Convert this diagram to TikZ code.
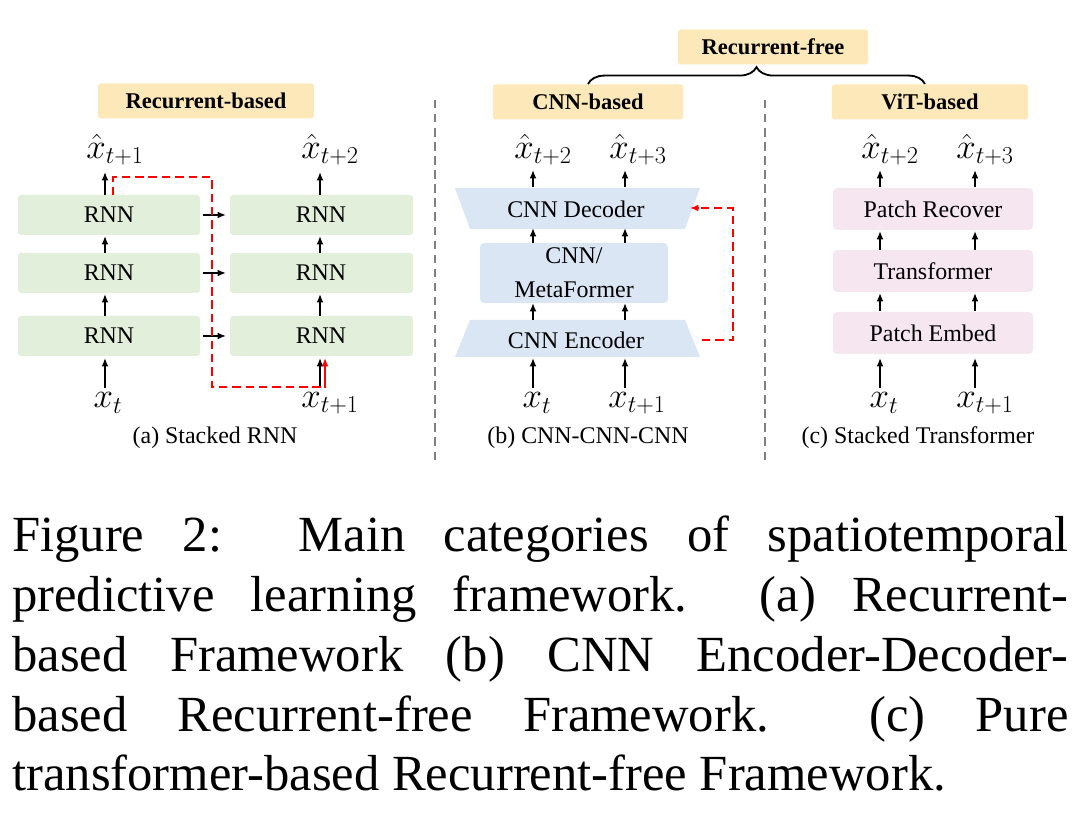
\documentclass[tikz,border=0pt]{standalone}
\usepackage{fontspec}
\setmainfont{Liberation Serif}
\usetikzlibrary{decorations.pathreplacing,arrows.meta}
\definecolor{gbox}{HTML}{E2EFDA}
\definecolor{bbox}{HTML}{DAE6F4}
\definecolor{pbox}{HTML}{F5E6EF}
\definecolor{lab}{HTML}{FDE8BA}
\begin{document}
\begin{tikzpicture}[x=0.025cm,y=-0.025cm,
 txt/.style={font=\fontsize{17}{19}\selectfont},
 math/.style={font=\fontsize{25}{28}\selectfont,inner sep=0pt},
 ar/.style={-{Latex[length=6pt,width=5pt]},line width=1.3pt},
 rd/.style={red,line width=1.3pt,dash pattern=on 6pt off 3.5pt},
 subcap/.style={font=\fontsize{17}{19}\selectfont},
 gd/.style={gray,line width=1pt,dash pattern=on 6pt off 4pt},
 lb/.style={fill=lab,rounded corners=2pt,font=\bfseries\fontsize{16}{18}\selectfont,minimum height=0.875cm}]
\useasboundingbox (0,0) rectangle (1080,819);
% panel a
\foreach \n/\y in {3/215,2/273,1/336}{
 \fill[gbox,rounded corners=2pt] (18,\y-20) rectangle (200,\y+20);
 \fill[gbox,rounded corners=2pt] (230,\y-20) rectangle (413,\y+20);
 \node[txt] (a\n) at (109,\y) {RNN};
 \node[txt] (b\n) at (321,\y) {RNN};
 \coordinate (ha\n) at (203,\y);
 \coordinate (hb\n) at (226,\y);
 \draw[ar] (ha\n) -- (hb\n);
}
\node[lb,minimum width=5.4cm] (lra) at (206,101) {Recurrent-based};
\node[math] (ya) at (115,150) {$\hat{x}_{t+1}$};
\node[math] (yb) at (330,150) {$\hat{x}_{t+2}$};
\node[math] (xa) at (108,403) {$x_t$};
\node[math] (xb) at (330,403) {$x_{t+1}$};
\foreach \c/\t in {105/a,320/b}{
 \draw[ar] (\c,195) -- (\c,172);
 \draw[ar] (\c,253) -- (\c,236);
 \draw[ar] (\c,316) -- (\c,294);
 \draw[ar] (\c,388) -- (\c,358);
}
\draw[rd] (113,195) -- (113,177) -- (212,177) -- (212,387) -- (325,387);
\draw[red,-{Latex[length=6pt,width=5pt]},line width=1.3pt] (325,388) -- (325,358);
\node[subcap] (ca) at (215,438) {(a) Stacked RNN};
% dividers
\draw[gd] (435,100) -- (435,462);
\draw[gd] (765,100) -- (765,462);
% panel b
\fill[bbox] (455,188) -- (700,188) -- (685,229) -- (470,229) -- cycle;
\fill[bbox,rounded corners=3pt] (480,243) rectangle (668,303);
\fill[bbox] (470,320) -- (685,320) -- (700,357) -- (455,357) -- cycle;
\node[txt] (dec) at (576,209) {CNN Decoder};
\node[txt,align=center,font=\fontsize{17}{24}\selectfont] (mid) at (574,273) {CNN/\\MetaFormer};
\node[txt] (enc) at (576,340) {CNN Encoder};
\node[lb,minimum width=4.75cm] (lcnn) at (588,102) {CNN-based};
\node[math] (y2) at (543,150) {$\hat{x}_{t+2}$};
\node[math] (y3) at (638,150) {$\hat{x}_{t+3}$};
\node[math] (x1) at (537,403) {$x_t$};
\node[math] (x2) at (637,403) {$x_{t+1}$};
\foreach \c in {533,625}{
 \draw[ar] (\c,187) -- (\c,170);
 \draw[ar] (\c,243) -- (\c,228);
 \draw[ar] (\c,320) -- (\c,303);
 \draw[ar] (\c,388) -- (\c,358);
}
\coordinate (r1) at (702,340);
\draw[rd] (r1) -- (733,340) -- (733,208) -- (697,208);
\draw[red,-{Latex[length=6pt,width=5pt]},line width=1.3pt] (698,208) -- (690,208);
\node[subcap] (cb) at (588,438) {(b) CNN-CNN-CNN};
% recurrent free
\node[lb,minimum width=4.75cm] (lrf) at (773,47) {Recurrent-free};
\draw[decorate,decoration={brace,amplitude=12pt},line width=1.3pt] (588,84) -- (925,84);
% panel c
\foreach \y/\t/\n in {209/Patch Recover/c3,271/Transformer/c2,333/Patch Embed/c1}{
 \fill[pbox,rounded corners=3pt] (833,\y-21) rectangle (1033,\y+21);
 \node[txt] (\n) at (933,\y) {\t};
}
\node[lb,minimum width=4.9cm] (lvit) at (930,102) {ViT-based};
\node[math] (z2) at (890,150) {$\hat{x}_{t+2}$};
\node[math] (z3) at (985,150) {$\hat{x}_{t+3}$};
\node[math] (w1) at (884,403) {$x_t$};
\node[math] (w2) at (985,403) {$x_{t+1}$};
\foreach \c in {880,975}{
 \draw[ar] (\c,187) -- (\c,170);
 \draw[ar] (\c,250) -- (\c,231);
 \draw[ar] (\c,311) -- (\c,293);
 \draw[ar] (\c,388) -- (\c,358);
}
\node[subcap] (cc) at (918,438) {(c) Stacked Transformer};
% caption
\node[anchor=north west,inner sep=0pt,text width=26.4cm,align=justify,font=\fontsize{36}{42.5}\selectfont] (fig) at (12,516)
 {Figure 2:\ \ Main categories of spatiotemporal\linebreak predictive learning framework.\ \ (a) Recurrent-\linebreak based Framework (b) CNN Encoder-Decoder-\linebreak based Recurrent-free Framework.\ \ (c) Pure\linebreak transformer-based Recurrent-free Framework.};
\end{tikzpicture}
\end{document}
